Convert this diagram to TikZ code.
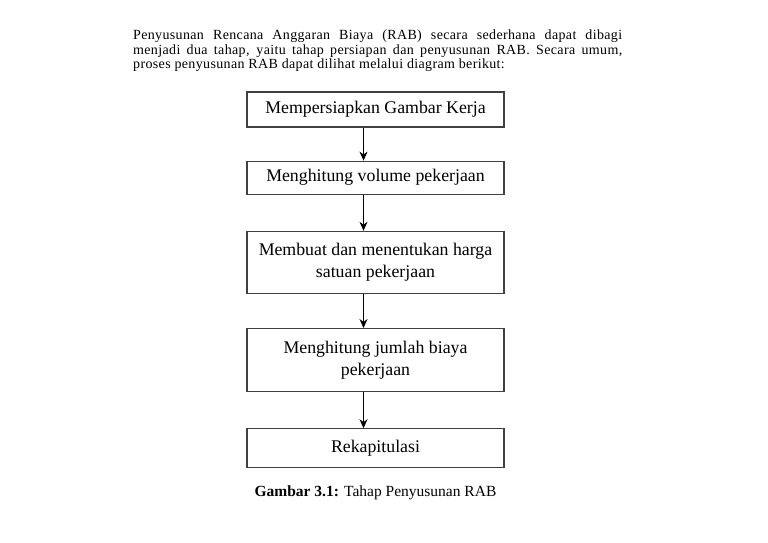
\documentclass[tikz,border=0pt]{standalone}
\usepackage{fontspec}
\setmainfont{Liberation Serif}
\newfontfamily\widefont[LetterSpace=2.5]{Liberation Serif}
\usetikzlibrary{positioning, arrows.meta}

\begin{document}
\begin{tikzpicture}[x=1pt, y=-1pt, node distance=35pt, auto]
\useasboundingbox (0,0) rectangle (768,543);
\node  (p)[anchor=north west, inner sep=0pt, text width=489pt, align=justify, font=\widefont\fontsize{14}{14.3}\selectfont] at (133,30) {Penyusunan Rencana Anggaran Biaya (RAB) secara sederhana dapat dibagi\linebreak menjadi dua tahap, yaitu tahap persiapan dan penyusunan RAB. Secara umum,\linebreak proses penyusunan RAB dapat dilihat melalui diagram berikut:};
\node  (1)[draw=black!75, line width=1.2pt, minimum width=257pt, minimum height=35pt, font=\fontsize{17.8}{22.5}\selectfont] at (375.5,109.5) {Mempersiapkan Gambar Kerja};
\node  (2)[draw=black!75, line width=1.2pt, minimum width=257pt, minimum height=33pt, font=\fontsize{17.8}{22.5}\selectfont] [below=33pt of 1] {Menghitung volume pekerjaan};
\node  (3)[draw=black!75, line width=1.2pt, minimum width=257pt, minimum height=62pt, align=center, font=\fontsize{17.8}{22.5}\selectfont] [below=36pt of 2] {Membuat dan menentukan harga\\satuan pekerjaan};
\node  (4)[draw=black!75, line width=1.2pt, minimum width=257pt, minimum height=63pt, align=center, font=\fontsize{17.8}{22.5}\selectfont] [below=34pt of 3] {Menghitung jumlah biaya\\pekerjaan};
\node  (5)[draw=black!75, line width=1.2pt, minimum width=257pt, minimum height=39pt, font=\fontsize{17.8}{22.5}\selectfont] [below=36pt of 4] {Rekapitulasi};
\node  (c)[inner sep=0pt, font=\fontsize{15.5}{18}\selectfont] [below=17pt of 5] {\textbf{Gambar 3.1:} Tahap Penyusunan RAB};
\draw[arrows={-Stealth[length=9pt, width=8pt]}, line width=1.1pt] ([xshift=-12pt]1.south) -- ([xshift=-12pt]2.north);
\draw[arrows={-Stealth[length=9pt, width=8pt]}, line width=1.1pt] ([xshift=-12pt]2.south) -- ([xshift=-12pt]3.north);
\draw[arrows={-Stealth[length=9pt, width=8pt]}, line width=1.1pt] ([xshift=-12pt]3.south) -- ([xshift=-12pt]4.north);
\draw[arrows={-Stealth[length=9pt, width=8pt]}, line width=1.1pt] ([xshift=-12pt]4.south) -- ([xshift=-12pt]5.north);
\end{tikzpicture}
\end{document}
